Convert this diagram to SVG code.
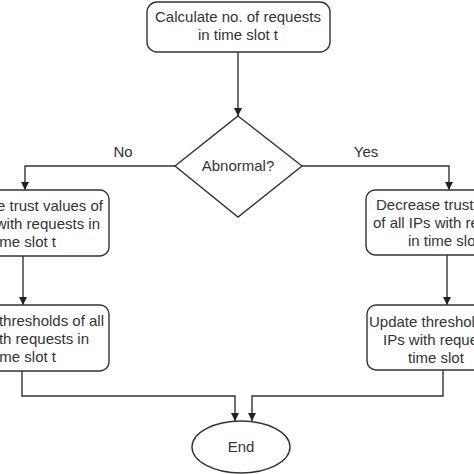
<svg xmlns="http://www.w3.org/2000/svg" width="474" height="474" viewBox="0 0 474 474">
<defs>
<marker id="arr" viewBox="0 0 10 10" refX="10" refY="5" markerWidth="8" markerHeight="8" markerUnits="userSpaceOnUse" orient="auto">
<path d="M0,0 L10,5 L0,10 Z" fill="#222"/>
</marker>
<style>
.n{fill:#fff;stroke:#333;stroke-width:1.4}
.t{font-family:"Liberation Sans",Arial,sans-serif;font-size:15px;fill:#333}
.c{fill:none;stroke:#333;stroke-width:1.4}
</style>
</defs>
<rect width="474" height="474" fill="#fff"/>
<g id="connectors">
<path class="c" d="M238,52 V116" marker-end="url(#arr)"/>
<path class="c" d="M175,166 H25 V190" marker-end="url(#arr)"/>
<path class="c" d="M302,166 H449 V190" marker-end="url(#arr)"/>
<path class="c" d="M23,256 V305" marker-end="url(#arr)"/>
<path class="c" d="M447,255 V305" marker-end="url(#arr)"/>
<path class="c" d="M22,371 V396 H235 V421" marker-end="url(#arr)"/>
<path class="c" d="M443,370 V396 H252 V421" marker-end="url(#arr)"/>
<text class="t" x="123" y="157" text-anchor="middle">No</text>
<text class="t" x="366" y="157" text-anchor="middle">Yes</text>
</g>
<g id="calc">
<rect class="n" x="147" y="2" width="183" height="50" rx="10"/>
<text class="t" x="238" y="22" text-anchor="middle">Calculate no. of requests</text>
<text class="t" x="238" y="40" text-anchor="middle">in time slot t</text>
</g>
<g id="abnormal">
<path class="n" d="M238,116 L302,166 L238,217 L175,166 Z"/>
<text class="t" x="238" y="171" text-anchor="middle">Abnormal?</text>
</g>
<g id="increase-trust">
<rect class="n" x="-20" y="190" width="129" height="66" rx="9"/>
<text class="t" x="103" y="211" text-anchor="end">e trust values of</text>
<text class="t" x="100" y="229" text-anchor="end">with requests in</text>
<text class="t" x="56" y="247" text-anchor="end">me slot t</text>
</g>
<g id="update-left">
<rect class="n" x="-20" y="305" width="129" height="66" rx="9"/>
<text class="t" x="104" y="326" text-anchor="end">thresholds of all</text>
<text class="t" x="89" y="344" text-anchor="end">th requests in</text>
<text class="t" x="56" y="362" text-anchor="end">me slot t</text>
</g>
<g id="decrease-trust">
<rect class="n" x="366" y="190" width="128" height="65" rx="9"/>
<text class="t" x="376" y="210">Decrease trust</text>
<text class="t" x="373" y="228">of all IPs with re</text>
<text class="t" x="408" y="246">in time slot</text>
</g>
<g id="update-right">
<rect class="n" x="367" y="305" width="127" height="65" rx="9"/>
<text class="t" x="369" y="327">Update thresholds</text>
<text class="t" x="383" y="345">IPs with reques</text>
<text class="t" x="408" y="363">time slot</text>
</g>
<g id="end">
<ellipse class="n" cx="241" cy="447" rx="49" ry="26"/>
<text class="t" x="241" y="452" text-anchor="middle">End</text>
</g>
</svg>
